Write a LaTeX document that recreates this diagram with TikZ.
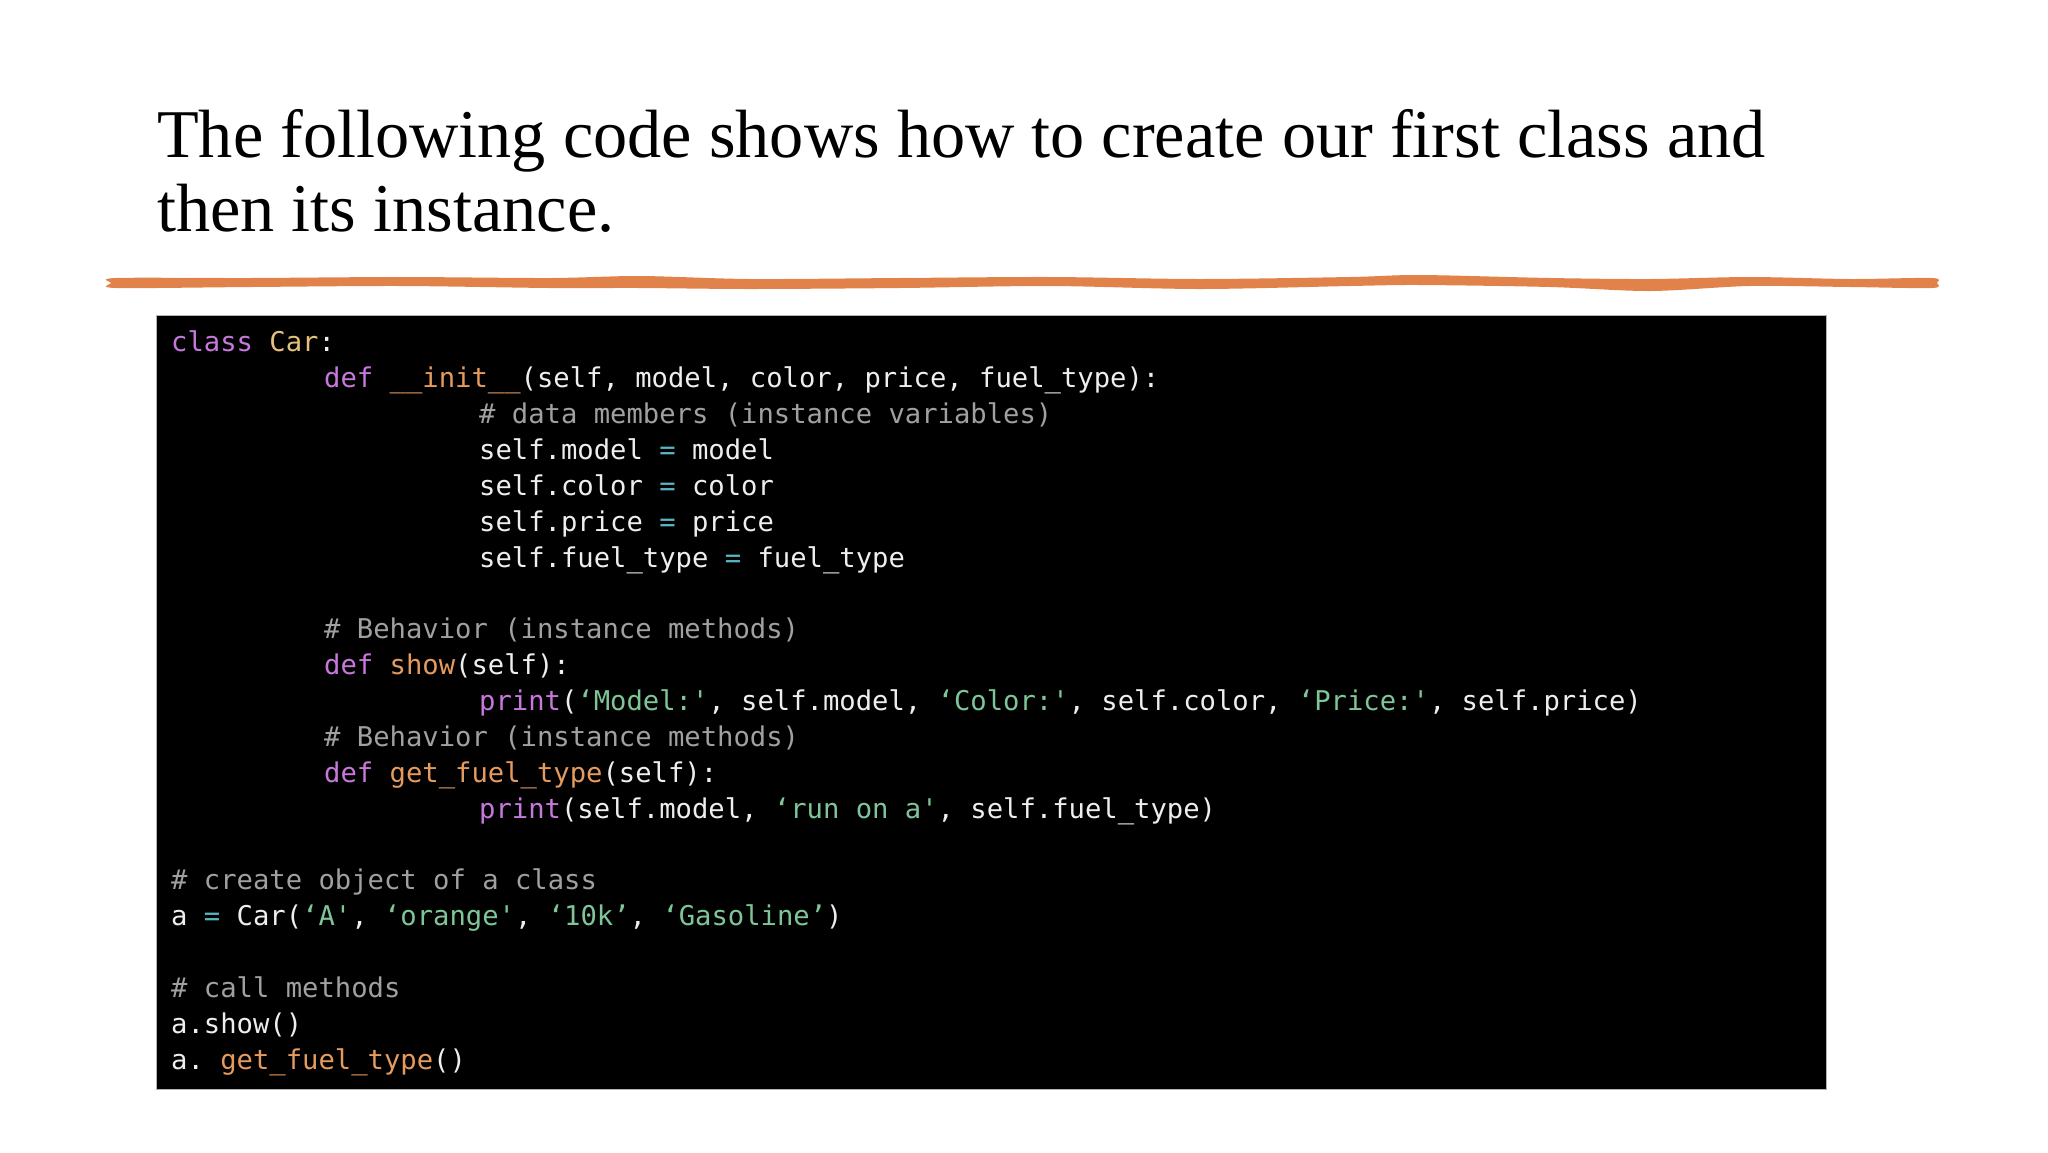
\documentclass[tikz,border=0pt]{standalone}
\usepackage{fontspec}
\setmainfont{Liberation Serif}
\setmonofont{DejaVu Sans Mono}
\usepackage{tikz}

\definecolor{kwpurple}{HTML}{C678DD}
\definecolor{clsyellow}{HTML}{E5C07B}
\definecolor{fnorange}{HTML}{E59A5E}
\definecolor{strgreen}{HTML}{7EC699}
\definecolor{opteal}{HTML}{56B6C2}
\definecolor{cmtgray}{HTML}{A0A0A0}
\definecolor{codefg}{HTML}{EEEEEE}
\definecolor{brushorange}{HTML}{E0824A}

\newcommand{\kwd}[1]{\textcolor{kwpurple}{#1}}
\newcommand{\clsn}[1]{\textcolor{clsyellow}{#1}}
\newcommand{\fnm}[1]{\textcolor{fnorange}{#1}}
\newcommand{\strg}[1]{\textcolor{strgreen}{#1}}
\newcommand{\eqop}[1]{\textcolor{opteal}{#1}}
\newcommand{\cmnt}[1]{\textcolor{cmtgray}{#1}}

\tikzset{
  title/.style={anchor=base west, inner sep=0pt, font=\fontsize{68.3}{74}\selectfont},
  code/.style={anchor=base west, inner sep=0pt, text=codefg,
    font=\ttfamily\fontsize{27.2}{35.8}\selectfont},
}

\begin{document}
\begin{tikzpicture}[x=1pt,y=-1pt]
  \useasboundingbox (0,0) rectangle (2048,1152);
  % heading
  \node[title] (title1) at (157,157) {The following code shows how to create our first class and};
  \node[title] (title2) at (157,231) {then its instance.};
  % brush stroke
  \fill[brushorange] plot[smooth cycle, tension=0.5] coordinates {
    (116,278) (250,278) (400,277) (550,278) (640,276) (750,279) (900,278)
    (1050,277) (1200,279) (1350,277) (1420,275) (1550,278) (1650,279)
    (1750,277) (1850,279) (1932,278) (1937,283)
    (1932,288) (1850,287) (1750,286) (1650,291) (1550,287) (1420,285)
    (1350,286) (1200,289) (1050,286) (900,288) (750,289) (640,288)
    (550,288) (400,286) (250,287) (116,288) (111,283)};
  % code panel
  \fill[black, draw=gray!60, line width=0.8pt] (156,315) rectangle (1826,1089);
  \node[code] (ln1) at (171,351) {\kwd{class} \clsn{Car}:};
  \node[code] (ln2) at (324,387) {\kwd{def} \fnm{\_\_init\_\_}(self, model, color, price, fuel\_type):};
  \node[code] (ln3) at (479,423) {\cmnt{\# data members (instance variables)}};
  \node[code] (ln4) at (479,459) {self.model \eqop{=} model};
  \node[code] (ln5) at (479,495) {self.color \eqop{=} color};
  \node[code] (ln6) at (479,531) {self.price \eqop{=} price};
  \node[code] (ln7) at (479,567) {self.fuel\_type \eqop{=} fuel\_type};
  \node[code] (ln9) at (324,638) {\cmnt{\# Behavior (instance methods)}};
  \node[code] (ln10) at (324,674) {\kwd{def} \fnm{show}(self):};
  \node[code] (ln11) at (479,710) {\kwd{print}(\strg{‘Model:'}, self.model, \strg{‘Color:'}, self.color, \strg{‘Price:'}, self.price)};
  \node[code] (ln12) at (324,746) {\cmnt{\# Behavior (instance methods)}};
  \node[code] (ln13) at (324,782) {\kwd{def} \fnm{get\_fuel\_type}(self):};
  \node[code] (ln14) at (479,818) {\kwd{print}(self.model, \strg{‘run on a'}, self.fuel\_type)};
  \node[code] (ln16) at (171,889) {\cmnt{\# create object of a class}};
  \node[code] (ln17) at (171,925) {a \eqop{=} Car(\strg{‘A'}, \strg{‘orange'}, \strg{‘10k’}, \strg{‘Gasoline’})};
  \node[code] (ln19) at (171,997) {\cmnt{\# call methods}};
  \node[code] (ln20) at (171,1033) {a.show()};
  \node[code] (ln21) at (171,1069) {a. \fnm{get\_fuel\_type}()};
\end{tikzpicture}
\end{document}
